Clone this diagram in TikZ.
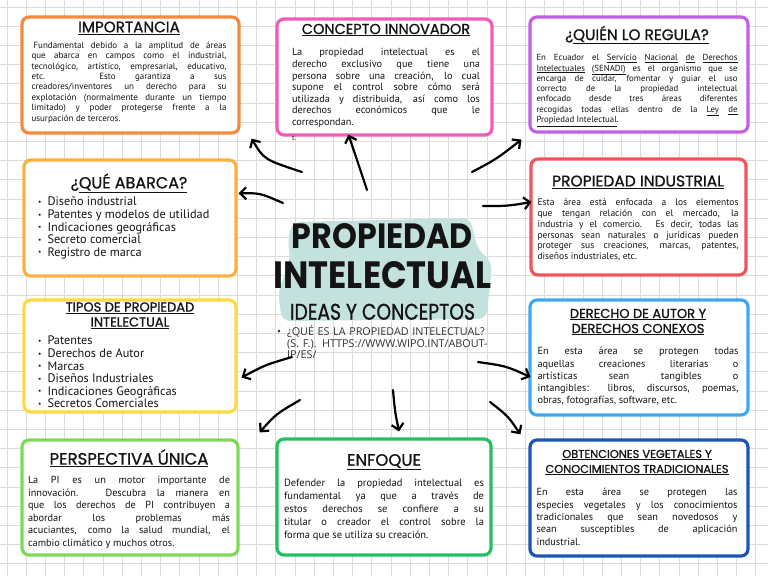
\documentclass[tikz,border=0pt]{standalone}
\usepackage{fontspec}
\setmainfont{PT Sans}
\newfontfamily\titulo[FakeBold=1]{Poppins}
\newfontfamily\grande{Poppins}
\newfontfamily\fuente{Open Sans}
\usepackage{graphicx}
\usetikzlibrary{positioning,arrows.meta}

\definecolor{rejilla}{HTML}{DCDCDC}
\definecolor{naranja}{HTML}{F5893E}
\definecolor{rosa}{HTML}{F25BB8}
\definecolor{morado}{HTML}{C160E0}
\definecolor{ambar}{HTML}{F9B13F}
\definecolor{rojo}{HTML}{F2545B}
\definecolor{amarillo}{HTML}{FDDB45}
\definecolor{celeste}{HTML}{3FA7F2}
\definecolor{lima}{HTML}{7ED957}
\definecolor{verde}{HTML}{22C063}
\definecolor{azul}{HTML}{1B56B3}
\definecolor{menta}{HTML}{C4E2DD}
\definecolor{tinta}{HTML}{141414}

\newcommand\letra[2]{\fontsize{#1}{#2}\selectfont\tolerance=10000\hyphenpenalty=10000\relax}
\newcommand\punto{\raisebox{1.5pt}{\scalebox{0.6}{\textbullet}}\hspace{6pt}}

\begin{document}
\begin{tikzpicture}
  [x=1pt, y=-1pt, text=tinta,
   caja/.style={draw=#1, line width=3.2pt, rounded corners=7pt, fill=white},
   titu/.style={font=\titulo\letra{#1}{15}, inner sep=0pt, align=center},
   texto/.style={text width=#1, align=justify, inner sep=0pt},
   lista/.style={font=\letra{12.3}{12.6}, align=left, inner sep=0pt, anchor=north west},
   flecha/.style={-{Straight Barb[length=6pt,width=12pt]}, line width=2.2pt, line cap=round, line join=round}
  ]
  \useasboundingbox (0,0) rectangle (768,576);
  \fill[white] (0,0) rectangle (768,576);
  \foreach \i in {0,...,39} \draw[rejilla, line width=0.7pt] (7+19.2*\i,0) -- (7+19.2*\i,576);
  \foreach \j in {0,...,29} \draw[rejilla, line width=0.7pt] (0,7+19.2*\j) -- (768,7+19.2*\j);

  % cajas
  \node[caja=naranja,  minimum width=217pt, minimum height=116pt] (imp)  at (130.5,75)   {};
  \node[caja=rosa,     minimum width=215pt, minimum height=116pt] (con)  at (384.5,77)   {};
  \node[caja=morado,   minimum width=218pt, minimum height=115pt] (qui)  at (639,74.5)   {};
  \node[caja=ambar,    minimum width=212pt, minimum height=116pt] (abar) at (130,218)    {};
  \node[caja=rojo,     minimum width=215pt, minimum height=116pt] (ind)  at (638.5,217)  {};
  \node[caja=amarillo, minimum width=212pt, minimum height=112pt] (tip)  at (130,356)    {};
  \node[caja=celeste,  minimum width=218pt, minimum height=115pt] (aut)  at (639,357.5)  {};
  \node[caja=lima,     minimum width=216pt, minimum height=115pt] (per)  at (130,497.5)  {};
  \node[caja=verde,    minimum width=214pt, minimum height=116pt] (enf)  at (384,497)    {};
  \node[caja=azul,     minimum width=218pt, minimum height=116pt] (obt)  at (639,498)    {};

  % centro
  \fill[menta, rounded corners=8pt] (293,222) -- (470,218) -- (478,250) -- (492,262) -- (490,287)
    -- (486,319) -- (282,321) -- (278,292) -- (290,262) -- (288,236) -- cycle;
  \node[inner sep=0pt] (prop) at (382.5,236) {\resizebox{181pt}{25pt}{\grande\bfseries PROPIEDAD}};
  \node[inner sep=0pt, below=12pt of prop] (intel) {\resizebox{218pt}{27pt}{\grande\bfseries INTELECTUAL}};
  \node[inner sep=0pt, below=15pt of intel] (ideas) {\resizebox{185pt}{16pt}{\titulo IDEAS Y CONCEPTOS}};
  \node[inner sep=0pt, anchor=north west, text width=240pt, align=left, text=black!80,
        font=\fuente\letra{10.8}{11.8}] (refe) at (287,325)
    {\llap{\textbullet\hspace{6pt}}¿QUÉ ES LA PROPIEDAD INTELECTUAL?\\(S. F.). HTTPS://WWW.WIPO.INT/ABOUT-\\IP/ES/};

  % importancia
  \node[titu=15.2] (impT) at (129,28) {\underline{IMPORTANCIA}};
  \node[texto=195pt, font=\letra{9}{10.4}, below=7pt of impT] (impC)
    {\hspace{2pt}Fundamental debido a la amplitud de áreas\linebreak
     que abarca en campos como el industrial,\linebreak
     tecnológico, artístico, empresarial, educativo,\linebreak
     etc. Esto garantiza a sus\linebreak
     creadores/inventores un derecho para su\linebreak
     explotación (normalmente durante un tiempo\linebreak
     limitado) y poder protegerse frente a la\linebreak
     usurpación de terceros.};

  % concepto innovador
  \node[titu=14.5] (conT) at (386,30) {\underline{CONCEPTO INNOVADOR}};
  \node[texto=188pt, font=\letra{10.3}{11.6}, below=12pt of conT] (conC)
    {La propiedad intelectual es el\linebreak
     derecho exclusivo que tiene una\linebreak
     persona sobre una creación, lo cual\linebreak
     supone el control sobre cómo será\linebreak
     utilizada y distribuida, así como los\linebreak
     derechos económicos que le\linebreak
     correspondan.};
  \node[inner sep=0pt, font=\letra{7}{8}] (conX) at (294,138) {t.};

  % quien lo regula
  \node[titu=15.3] (quiT) at (637,35) {¿\underline{QUIÉN LO REGULA?}};
  \node[texto=201pt, font=\letra{8.8}{10.3}, below=10pt of quiT] (quiC)
    {En Ecuador el \underline{Servicio} \underline{Nacional} \underline{de} \underline{Derechos}\linebreak
     \underline{Intelectuales} \underline{(SENADI)} es el organismo que se\linebreak
     encarga de cuidar, fomentar y guiar el uso\linebreak
     correcto de la propiedad intelectual\linebreak
     enfocado desde tres áreas diferentes\linebreak
     recogidas todas ellas dentro de la \underline{Ley} \underline{de}\linebreak
     \underline{Propiedad Intelectual}.};

  % que abarca
  \node[titu=16] (abarT) at (129,183) {¿\underline{QUÉ ABARCA?}};
  \node[lista] (abarL) at (38,197)
    {\punto Diseño industrial\\ \punto Patentes y modelos de utilidad\\ \punto Indicaciones geográficas\\
     \punto Secreto comercial\\ \punto Registro de marca};

  % propiedad industrial
  \node[titu=15.5] (indT) at (638,182) {\underline{PROPIEDAD INDUSTRIAL}};
  \node[texto=201pt, font=\letra{9.5}{10.8}, below=10pt of indT] (indC)
    {Esta área está enfocada a los elementos\linebreak
     que tengan relación con el mercado, la\linebreak
     industria y el comercio. Es decir, todas las\linebreak
     personas sean naturales o jurídicas pueden\linebreak
     proteger sus creaciones, marcas, patentes,\linebreak
     diseños industriales, etc.};

  % tipos
  \node[titu=13] (tipT) at (130,315.5) {\underline{TIPOS DE PROPIEDAD}\\\underline{INTELECTUAL}};
  \node[lista] (tipL) at (38,336)
    {\punto Patentes\\ \punto Derechos de Autor\\ \punto Marcas\\ \punto Diseños Industriales\\
     \punto Indicaciones Geográficas\\ \punto Secretos Comerciales};

  % derecho de autor
  \node[titu=13] (autT) at (638,322) {\underline{DERECHO DE AUTOR Y}\\\underline{DERECHOS CONEXOS}};
  \node[texto=201pt, font=\letra{10.3}{12.2}, below=12pt of autT] (autC)
    {En esta área se protegen todas\linebreak
     aquellas creaciones literarias o\linebreak
     artísticas sean tangibles o\linebreak
     intangibles: libros, discursos, poemas,\linebreak
     obras, fotografías, software, etc.};

  % perspectiva unica
  \node[titu=16.5] (perT) at (129,458) {\underline{PERSPECTIVA ÚNICA}};
  \node[texto=202pt, font=\letra{10.3}{12.6}, below=9pt of perT] (perC)
    {La PI es un motor importante de\linebreak
     innovación. Descubra la manera en\linebreak
     que los derechos de PI contribuyen a\linebreak
     abordar los problemas más\linebreak
     acuciantes, como la salud mundial, el\linebreak
     cambio climático y muchos otros.};

  % enfoque
  \node[titu=16.5] (enfT) at (384,462) {\underline{ENFOQUE}};
  \node[texto=200pt, font=\letra{10.5}{13}, below=9pt of enfT] (enfC)
    {Defender la propiedad intelectual es\linebreak
     fundamental ya que a través de\linebreak
     estos derechos se confiere a su\linebreak
     titular o creador el control sobre la\linebreak
     forma que se utiliza su creación.};

  % obtenciones vegetales
  \node[titu=11.4] (obtT) at (637,462.5) {\underline{OBTENCIONES VEGETALES Y}\\\underline{CONOCIMIENTOS TRADICIONALES}};
  \node[texto=201pt, font=\letra{10.3}{12.3}, below=13pt of obtT] (obtC)
    {En esta área se protegen las\linebreak
     especies vegetales y los conocimientos\linebreak
     tradicionales que sean novedosos y\linebreak
     sean susceptibles de aplicación\linebreak
     industrial.};

  % flechas
  \coordinate (f1) at (302,172);
  \coordinate (f2) at (367,190);
  \coordinate (f3) at (472,172);
  \coordinate (f4) at (283,203);
  \coordinate (f5) at (483,206);
  \coordinate (f6) at (292,357);
  \coordinate (f7) at (300,400);
  \coordinate (f8) at (393,390);
  \coordinate (f9) at (478,362);
  \coordinate (f10) at (490,402);

  \draw[flecha] (f1) .. controls (264,159.5) .. ([shift={(11,4)}]imp.south east);
  \draw[flecha] (f2) .. controls (356.5,158.5) .. ([shift={(-36,-2)}]con.south);
  \draw[flecha] (f3) .. controls (496.5,159) .. ([shift={(-7,6)}]qui.south west);
  \draw[flecha] (f4) .. controls (260,193) .. ([shift={(1,35)}]abar.north east);
  \draw[flecha] (f5) .. controls (508,206) .. ([shift={(2,-15)}]ind.west);
  \draw[flecha] (f6) .. controls (265,365) .. ([shift={(4,21.5)}]tip.east);
  \draw[flecha] (f7) .. controls (276,414) .. ([shift={(20,-6)}]per.north east);
  \draw[flecha] (f8) .. controls (395,412) .. ([shift={(15,-6)}]enf.north);
  \draw[flecha] (f9) .. controls (506,366) .. ([shift={(2,19.5)}]aut.west);
  \draw[flecha] (f10) .. controls (508,416) .. ([shift={(-8,-4)}]obt.north west);
\end{tikzpicture}
\end{document}
